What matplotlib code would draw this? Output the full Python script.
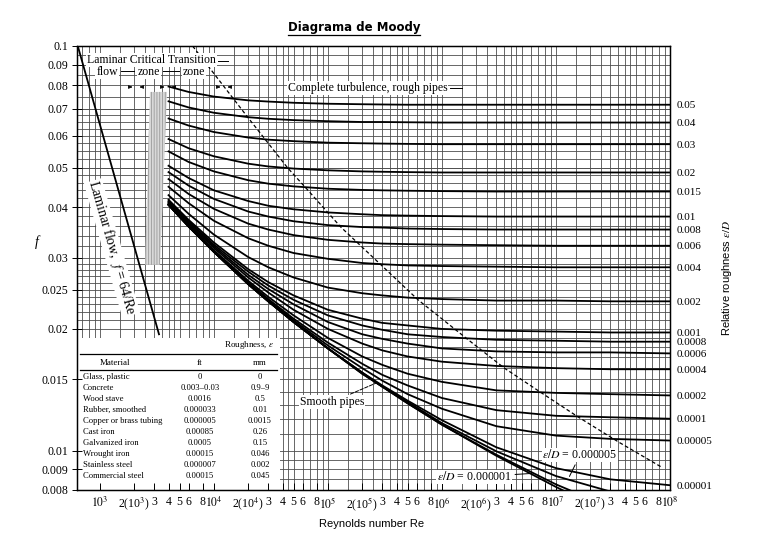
import matplotlib
matplotlib.use("Agg")
import numpy as np
import matplotlib.pyplot as plt
from matplotlib.patches import Rectangle, Polygon
from matplotlib.lines import Line2D

plt.rcParams["font.family"] = ["Liberation Serif", "DejaVu Serif"]
plt.rcParams["mathtext.fontset"] = "stix"
plt.rcParams["hatch.linewidth"] = 0.6

re_points = [4e3, 6e3, 1e4, 2e4, 3e4, 5e4, 1e5, 2e5, 3e5, 5e5, 1e6, 3e6, 1e7, 3e7, 1e8]

# friction factor f for each relative roughness
f_0p05 = [0.0794, 0.0770, 0.0750, 0.0734, 0.0729, 0.0724, 0.0720, 0.0718, 0.0717, 0.0716, 0.0716, 0.0716, 0.0716, 0.0716, 0.0716]
f_0p04 = [0.0730, 0.0705, 0.0684, 0.0667, 0.0661, 0.0656, 0.0652, 0.0649, 0.0649, 0.0648, 0.0647, 0.0647, 0.0647, 0.0647, 0.0647]
f_0p03 = [0.0662, 0.0636, 0.0613, 0.0594, 0.0587, 0.0582, 0.0577, 0.0575, 0.0574, 0.0573, 0.0572, 0.0572, 0.0572, 0.0572, 0.0572]
f_0p02 = [0.0589, 0.0559, 0.0534, 0.0512, 0.0504, 0.0498, 0.0493, 0.0490, 0.0489, 0.0488, 0.0487, 0.0487, 0.0487, 0.0487, 0.0487]
f_0p015 = [0.0549, 0.0517, 0.0490, 0.0466, 0.0457, 0.0450, 0.0444, 0.0441, 0.0440, 0.0439, 0.0438, 0.0437, 0.0437, 0.0437, 0.0437]
f_0p01 = [0.0506, 0.0472, 0.0440, 0.0414, 0.0403, 0.0395, 0.0388, 0.0384, 0.0382, 0.0381, 0.0380, 0.0379, 0.0379, 0.0379, 0.0379]
f_0p008 = [0.0488, 0.0452, 0.0419, 0.0390, 0.0379, 0.0369, 0.0361, 0.0357, 0.0356, 0.0354, 0.0353, 0.0352, 0.0352, 0.0352, 0.0352]
f_0p006 = [0.0469, 0.0431, 0.0396, 0.0364, 0.0352, 0.0341, 0.0332, 0.0327, 0.0325, 0.0324, 0.0323, 0.0322, 0.0321, 0.0321, 0.0321]
f_0p004 = [0.0449, 0.0409, 0.0370, 0.0335, 0.0321, 0.0308, 0.0298, 0.0291, 0.0289, 0.0287, 0.0286, 0.0285, 0.0284, 0.0284, 0.0284]
f_0p002 = [0.0428, 0.0385, 0.0342, 0.0301, 0.0284, 0.0268, 0.0253, 0.0245, 0.0242, 0.0239, 0.0237, 0.0235, 0.0235, 0.0234, 0.0234]
f_0p001 = [0.0417, 0.0372, 0.0327, 0.0281, 0.0261, 0.0242, 0.0223, 0.0212, 0.0207, 0.0204, 0.0200, 0.0198, 0.0197, 0.0196, 0.0196]
f_0p0008 = [0.0414, 0.0369, 0.0323, 0.0277, 0.0256, 0.0236, 0.0216, 0.0204, 0.0199, 0.0194, 0.0191, 0.0188, 0.0187, 0.0186, 0.0186]
f_0p0006 = [0.0412, 0.0367, 0.0320, 0.0272, 0.0251, 0.0230, 0.0208, 0.0194, 0.0189, 0.0184, 0.0179, 0.0176, 0.0175, 0.0175, 0.0174]
f_0p0004 = [0.0410, 0.0364, 0.0317, 0.0268, 0.0246, 0.0223, 0.0200, 0.0184, 0.0177, 0.0171, 0.0166, 0.0162, 0.0160, 0.0159, 0.0159]
f_0p0002 = [0.0408, 0.0361, 0.0313, 0.0263, 0.0240, 0.0216, 0.0190, 0.0171, 0.0163, 0.0155, 0.0148, 0.0141, 0.0139, 0.0138, 0.0137]
f_0p0001 = [0.0406, 0.0360, 0.0311, 0.0261, 0.0237, 0.0212, 0.0185, 0.0164, 0.0154, 0.0145, 0.0135, 0.0126, 0.0122, 0.0121, 0.0120]
f_5em5 = [0.0406, 0.0359, 0.0311, 0.0259, 0.0235, 0.0210, 0.0182, 0.0160, 0.0149, 0.0138, 0.0127, 0.0115, 0.0109, 0.0107, 0.0106]
f_1em5 = [0.0405, 0.0359, 0.0310, 0.0258, 0.0234, 0.0208, 0.0179, 0.0156, 0.0145, 0.0133, 0.0119, 0.0102, 0.00906, 0.0085, 0.00822]
f_5em6 = [0.0405, 0.0358, 0.0310, 0.0258, 0.0234, 0.0208, 0.0179, 0.0156, 0.0144, 0.0132, 0.0117, 0.00997, 0.00866, 0.00793, 0.00752]
f_1em6 = [0.0405, 0.0358, 0.0310, 0.0258, 0.0234, 0.0208, 0.0179, 0.0155, 0.0144, 0.0131, 0.0116, 0.00978, 0.00826, 0.00725, 0.0068]
f_smooth = [0.0405, 0.0358, 0.0310, 0.0258, 0.0234, 0.0208, 0.0179, 0.0155, 0.0144, 0.0131, 0.0116, 0.00972, 0.00814, 0.00701, 0.0061]

rough_labels = ["0.05", "0.04", "0.03", "0.02", "0.015", "0.01", "0.008", "0.006",
                "0.004", "0.002", "0.001", "0.0008", "0.0006", "0.0004", "0.0002",
                "0.0001", "0.00005", "0.00001"]
rough_curves = [f_0p05, f_0p04, f_0p03, f_0p02, f_0p015, f_0p01, f_0p008, f_0p006,
                f_0p004, f_0p002, f_0p001, f_0p0008, f_0p0006, f_0p0004, f_0p0002,
                f_0p0001, f_5em5, f_1em5]
extra_curves = [f_5em6, f_1em6, f_smooth]

# laminar line end points
laminar_re = [640, 3300]
laminar_f = [0.1, 0.0194]

# dashed boundary of complete turbulence
boundary_re = [6500, 19700, 44300, 66400, 129700, 291700, 617000, 1.70e6,
               3.53e6, 7.47e6, 1.58e7, 3.56e7, 8.5e7]
boundary_f = [0.1, 0.0668, 0.0500, 0.0441, 0.0357, 0.0288, 0.0236, 0.0188,
              0.0160, 0.0139, 0.0121, 0.0105, 0.0091]

# shaded critical zone outline
critical_re = [2750, 3880, 3370, 2490]
critical_f = [0.077, 0.077, 0.0288, 0.0288]

# roughness table
materials = ["Glass, plastic", "Concrete", "Wood stave", "Rubber, smoothed",
             "Copper or brass tubing", "Cast iron", "Galvanized iron",
             "Wrought iron", "Stainless steel", "Commercial steel"]
rough_ft = ["0", "0.003–0.03", "0.0016", "0.000033", "0.000005", "0.00085",
            "0.0005", "0.00015", "0.000007", "0.00015"]
rough_mm = ["0", "0.9–9", "0.5", "0.01", "0.0015", "0.26", "0.15", "0.046",
            "0.002", "0.045"]

left_ticks = [0.1, 0.09, 0.08, 0.07, 0.06, 0.05, 0.04, 0.03, 0.025, 0.02,
              0.015, 0.01, 0.009, 0.008]

W, H = 768, 543
fig = plt.figure(figsize=(W / 100, H / 100), dpi=100)
ax = fig.add_axes([77 / W, 53 / H, 593 / W, 444 / H])
ax.set_xscale("log")
ax.set_yscale("log")
ax.set_xlim(630, 1e8)
ax.set_ylim(0.008, 0.1)
ax.set_axisbelow(False)

# dense chart paper grid
grid_col = "0.3"
for d in range(2, 8):
    for m in [1, 1.5, 2, 2.5, 3, 3.5, 4, 4.5, 5, 6, 7, 8, 9]:
        v = m * 10 ** d
        if 630 < v < 1e8:
            ax.axvline(v, color=grid_col, lw=0.6, zorder=1)
hlines = list(np.arange(0.0085, 0.0100, 0.0005)) + list(np.arange(0.010, 0.030, 0.001)) \
    + list(np.arange(0.030, 0.050, 0.002)) + list(np.arange(0.050, 0.070, 0.0025)) \
    + list(np.arange(0.070, 0.100, 0.005))
for v in hlines:
    ax.axhline(v, color=grid_col, lw=0.6, zorder=1)

# critical zone
ax.add_patch(Polygon(list(zip(critical_re, critical_f)), closed=True,
                     facecolor="0.85", edgecolor="0.6", hatch="||||||", lw=0, zorder=1.6))

for f in rough_curves + extra_curves:
    ax.plot(re_points, f, color="black", lw=1.3, zorder=2)
ax.plot(laminar_re, laminar_f, color="black", lw=1.3, zorder=2)
ax.plot(boundary_re, boundary_f, color="black", lw=0.9, ls=(0, (3, 2)), zorder=2)

# x ticks
xt, xl = [], []
for d in range(3, 8):
    for m, lab in zip([1, 2, 3, 4, 5, 6, 8],
                      [r"$10^{%d}$" % d, r"2(10$^{%d}$)" % d, "3", "4", "5", "6", "8"]):
        xt.append(m * 10 ** d)
        xl.append(lab)
xt.append(1e8)
xl.append(r"$10^{8}$")
ax.set_xticks(xt)
ax.set_xticklabels(xl, fontsize=8.5)
ax.xaxis.set_minor_locator(matplotlib.ticker.NullLocator())
ax.tick_params(axis="x", direction="in", length=5, width=0.7, pad=4)

ax.set_yticks(left_ticks)
ax.set_yticklabels([str(v) for v in left_ticks], fontsize=8.5)
ax.yaxis.set_minor_locator(matplotlib.ticker.NullLocator())
ax.tick_params(axis="y", direction="inout", length=7, width=0.7, pad=3)
for s in ax.spines.values():
    s.set_linewidth(1.0)

ax2 = ax.twinx()
ax2.set_yscale("log")
ax2.set_ylim(ax.get_ylim())
ax2.set_yticks([f[-1] for f in rough_curves])
ax2.set_yticklabels(rough_labels, fontsize=8)
ax2.yaxis.set_minor_locator(matplotlib.ticker.NullLocator())
ax2.tick_params(axis="y", length=0, pad=5)


def axpos(px, py):
    return ((px - 77) / 593, (490 - py) / 444)


def seg(px0, px1, py):
    xa, ya = axpos(px0, py)
    xb, _ = axpos(px1, py)
    ax.plot([xa, xb], [ya, ya], transform=ax.transAxes, color="black", lw=0.7,
            zorder=4.5, clip_on=False)


white = dict(facecolor="white", edgecolor="none", pad=0.6)

# zone labels at the top left
ax.text(*axpos(87, 60), "Laminar Critical Transition", transform=ax.transAxes,
        fontsize=8.5, ha="left", va="center", bbox=white, zorder=4)
for px, lab in [(107, "flow"), (149, "zone"), (194, "zone")]:
    ax.text(*axpos(px, 72), lab, transform=ax.transAxes, fontsize=8.5,
            ha="center", va="center", bbox=white, zorder=4)
seg(121, 134, 71)
seg(163, 179, 71)
seg(218, 228, 61)
for b in [136, 168, 224]:
    for s in [-1, 1]:
        ax.annotate("", xy=axpos(b + s * 1, 87), xytext=axpos(b + s * 8, 87),
                    xycoords="axes fraction", textcoords="axes fraction",
                    arrowprops=dict(arrowstyle="-|>", lw=0.6, color="black",
                                    mutation_scale=5), zorder=4)

ax.text(*axpos(288, 88), "Complete turbulence, rough pipes", transform=ax.transAxes,
        fontsize=8.5, ha="left", va="center", bbox=white, zorder=4)
seg(450, 462, 88)

ax.text(*axpos(112, 248), r"Laminar flow,  $f$ = 64/Re", transform=ax.transAxes,
        fontsize=10, rotation=-74, ha="center", va="center",
        bbox=dict(facecolor="white", edgecolor="none", pad=0.2), zorder=4)

ax.annotate("Smooth pipes", xy=(2.8e5, 0.0148), xycoords="data",
            xytext=axpos(332, 402), textcoords="axes fraction", fontsize=8.5,
            ha="center", va="center", bbox=white, zorder=4,
            arrowprops=dict(arrowstyle="-", ls="--", lw=0.7, color="black"))
ax.annotate(r"$\varepsilon/D$ = 0.000005", xy=(1.28e7, 0.00852), xycoords="data",
            xytext=axpos(580, 455), textcoords="axes fraction", fontsize=8.5,
            ha="center", va="center", bbox=white, zorder=4,
            arrowprops=dict(arrowstyle="-", lw=0.7, color="black"))
ax.annotate(r"$\varepsilon/D$ = 0.000001", xy=(6.5e6, 0.0088), xycoords="data",
            xytext=axpos(474, 477), textcoords="axes fraction", fontsize=8.5,
            ha="center", va="center", bbox=white, zorder=4,
            arrowprops=dict(arrowstyle="-", lw=0.7, color="black"))

# roughness table
x0, y0 = axpos(77, 490)
x1, y1 = axpos(280, 338)
ax.add_patch(Rectangle((x0, y0), x1 - x0, y1 - y0, transform=ax.transAxes,
                       facecolor="white", edgecolor="none", zorder=2.3))
ax.text(*axpos(274, 345), r"Roughness, $\varepsilon$", transform=ax.transAxes,
        fontsize=6.5, ha="right", va="center", zorder=2.4)
for py in [354, 370]:
    xa, ya = axpos(80, py)
    xb, _ = axpos(277, py)
    ax.plot([xa, xb], [ya, ya], transform=ax.transAxes, color="black", lw=0.9, zorder=2.4)
ax.text(*axpos(115, 363), "Material", transform=ax.transAxes, fontsize=6.5,
        ha="center", va="center", zorder=2.4)
ax.text(*axpos(200, 363), "ft", transform=ax.transAxes, fontsize=6.5,
        ha="center", va="center", zorder=2.4)
ax.text(*axpos(260, 363), "mm", transform=ax.transAxes, fontsize=6.5,
        ha="center", va="center", zorder=2.4)
for i, (mat, ft, mm) in enumerate(zip(materials, rough_ft, rough_mm)):
    py = 377 + 11 * i
    ax.text(*axpos(83, py), mat, transform=ax.transAxes, fontsize=6.2,
            ha="left", va="center", zorder=2.4)
    ax.text(*axpos(200, py), ft, transform=ax.transAxes, fontsize=6.2,
            ha="center", va="center", zorder=2.4)
    ax.text(*axpos(260, py), mm, transform=ax.transAxes, fontsize=6.2,
            ha="center", va="center", zorder=2.4)

# axis titles
fig.text(37 / W, 1 - 242 / H, "f", fontsize=10, style="italic", ha="center", va="center")
fig.text(372 / W, 1 - 524 / H, "Reynolds number Re", fontsize=8,
         family="Liberation Sans", ha="center", va="center")
fig.text(727 / W, 1 - 278 / H, r"Relative roughness $\varepsilon/D$", fontsize=8,
         family="Liberation Sans", rotation=90, ha="center", va="center")

title = fig.text(354 / W, 1 - 27 / H, "Diagrama de Moody", fontsize=8.5,
                 family="DejaVu Sans", weight="bold", ha="center", va="center")
fig.canvas.draw()
bb = title.get_window_extent(fig.canvas.get_renderer())
fig.add_artist(Line2D([bb.x0 / W, bb.x1 / W], [(bb.y0 - 1.5) / H] * 2,
                      color="black", lw=0.9))

fig.savefig("out.png", dpi=100)
plt.close(fig)
